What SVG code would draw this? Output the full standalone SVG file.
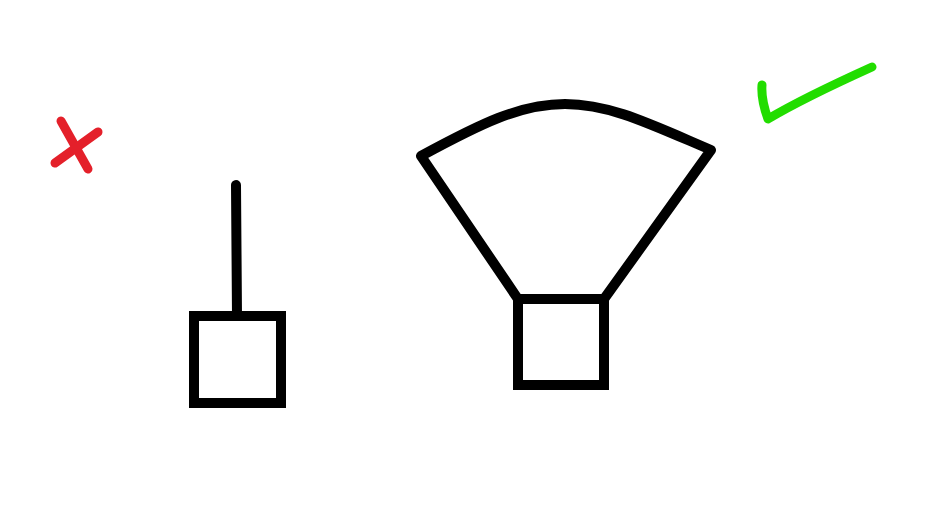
<svg xmlns="http://www.w3.org/2000/svg" width="926" height="514" viewBox="0 0 926 514">
<style>
.k{fill:none;stroke:#000;stroke-width:10;stroke-linecap:round;stroke-linejoin:miter}
.box{fill:none;stroke:#000;stroke-width:10;stroke-linejoin:miter}
.r{fill:none;stroke:#e4202a;stroke-width:9;stroke-linecap:round}
.g{fill:none;stroke:#22dd00;stroke-width:9;stroke-linecap:round;stroke-linejoin:round}
</style>
<rect width="926" height="514" fill="#fff"/>
<g id="cross">
<path class="r" d="M61,121 L88,169"/>
<path class="r" d="M55,163 L98,132"/>
</g>
<g id="check">
<path class="g" d="M762,85 C761,98 764,108 768,119 C800,100 830,86 872,67"/>
</g>
<g id="wrong">
<rect class="box" x="194" y="316" width="87" height="87"/>
</g>
<g id="right">
<rect class="box" x="518" y="299" width="86" height="86"/>
<path class="k" style="stroke-linejoin:round" d="M518,299 L421,156 C480,124 520,104 565,104 C610,104 650,124 711,150 L604,299"/>
</g>
<g id="connectors">
<path class="k" d="M236,185 L237,316"/>
</g>
</svg>
